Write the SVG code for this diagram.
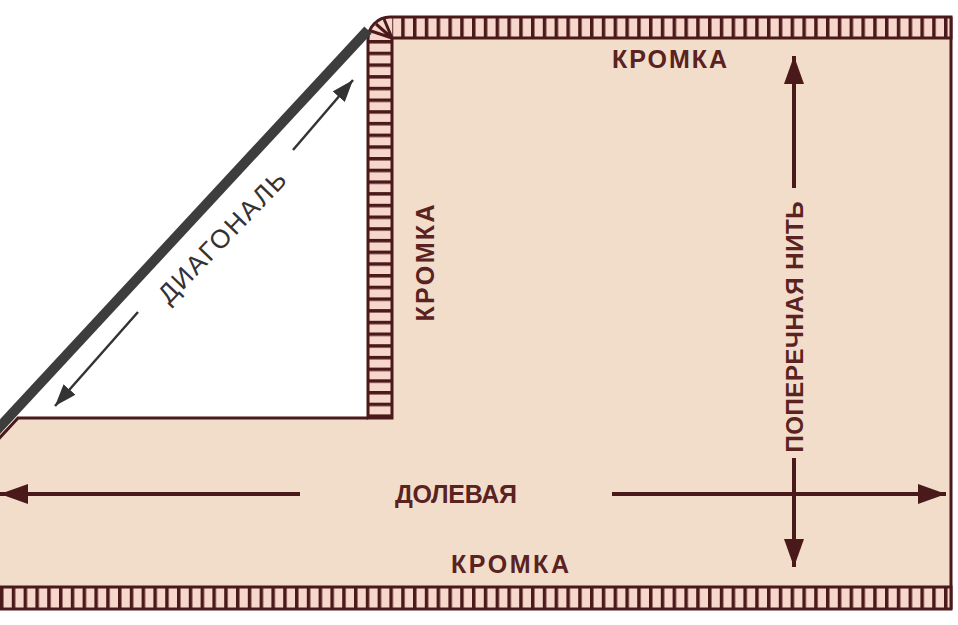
<svg xmlns="http://www.w3.org/2000/svg" width="958" height="625" viewBox="0 0 958 625">
<defs>
<style>
.lbl{font-family:"Liberation Sans",Arial,sans-serif;font-weight:bold;fill:#5a2220;}
.diag{font-family:"Liberation Sans",Arial,sans-serif;fill:#333;}
.brown{stroke:#4a1a1a;stroke-width:4;fill:none;}
.grey{stroke:#333;stroke-width:2.5;fill:none;}
.edge{stroke:#4a1a1a;stroke-width:3;}
</style>
<pattern id="vbars" patternUnits="userSpaceOnUse" x="0" y="0" width="11.8" height="40">
<rect x="0" y="0" width="3.5" height="40" fill="#4a1a1a"/>
</pattern>
<pattern id="hbars" patternUnits="userSpaceOnUse" x="0" y="40" width="40" height="11.7">
<rect x="0" y="0" width="40" height="3.5" fill="#4a1a1a"/>
</pattern>
<marker id="ahB" markerUnits="userSpaceOnUse" markerWidth="28" markerHeight="20" refX="28" refY="10" orient="auto">
<path d="M0,0 L28,10 L0,20 Z" fill="#4a1a1a"/>
</marker>
<marker id="ahG" markerUnits="userSpaceOnUse" markerWidth="22" markerHeight="16" refX="22" refY="8" orient="auto">
<path d="M0,0 L22,8 L0,16 Z" fill="#333"/>
</marker>
</defs>
<rect width="958" height="625" fill="#ffffff"/>
<g id="fabric">
<path d="M368,418 V39 A22,22 0 0 1 390,17 H951 V609 H-5 V438 L18,418 Z" fill="#f2ddcb"/>
<path d="M951,17 V609 M-5,443 L18,418 H368" fill="none" class="edge"/>
</g>
<g id="selvedge-top-left">
<path d="M368,418 V39 A22,22 0 0 1 390,17 H951 V38 H392 V418 Z" fill="#f7d6cc"/>
<rect x="392" y="17" width="559" height="21" fill="url(#vbars)"/>
<rect x="368" y="40" width="24" height="378" fill="url(#hbars)"/>
<path d="M371,31 L392,38 M376,24 L392,38 M384,19 L392,38" stroke="#4a1a1a" stroke-width="3"/>
<path d="M368,418 V39 A22,22 0 0 1 390,17 H951 V38 H392 V418 Z" fill="none" class="edge"/>
</g>
<g id="selvedge-bottom">
<rect x="0" y="587" width="951" height="22" fill="#f7d6cc"/>
<rect x="0" y="587" width="951" height="22" fill="url(#vbars)"/>
<rect x="-5" y="587" width="956" height="22" fill="none" class="edge"/>
</g>
<g id="diagonal-band">
<line x1="-5" y1="432" x2="368" y2="30" stroke="#3d3d3d" stroke-width="10"/>
</g>
<g id="connectors">
<line x1="293" y1="150" x2="353" y2="80" class="grey" marker-end="url(#ahG)"/>
<line x1="138" y1="312" x2="55" y2="406" class="grey" marker-end="url(#ahG)"/>
<line x1="300" y1="494" x2="0" y2="494" class="brown" marker-end="url(#ahB)"/>
<line x1="612" y1="494" x2="946" y2="494" class="brown" marker-end="url(#ahB)"/>
<line x1="794" y1="188" x2="794" y2="56" class="brown" marker-end="url(#ahB)"/>
<line x1="794" y1="458" x2="794" y2="567" class="brown" marker-end="url(#ahB)"/>
</g>
<g id="labels">
<text class="lbl" x="669.5" y="68" font-size="25" text-anchor="middle" textLength="115" lengthAdjust="spacing">КРОМКА</text>
<text class="lbl" x="510" y="573" font-size="25" text-anchor="middle" textLength="118" lengthAdjust="spacing">КРОМКА</text>
<text class="lbl" font-size="25" text-anchor="middle" transform="translate(425,263) rotate(-90)" x="0" y="9" textLength="117" lengthAdjust="spacing">КРОМКА</text>
<text class="lbl" x="456" y="503" font-size="25" text-anchor="middle" textLength="122" lengthAdjust="spacing">ДОЛЕВАЯ</text>
<text class="lbl" font-size="24" text-anchor="middle" transform="translate(794,327) rotate(-90)" x="0" y="9" textLength="251" lengthAdjust="spacing">ПОПЕРЕЧНАЯ НИТЬ</text>
<text class="diag" font-size="26" text-anchor="middle" transform="translate(222,237) rotate(-46)" x="0" y="9" textLength="172" lengthAdjust="spacing">ДИАГОНАЛЬ</text>
</g>
</svg>
